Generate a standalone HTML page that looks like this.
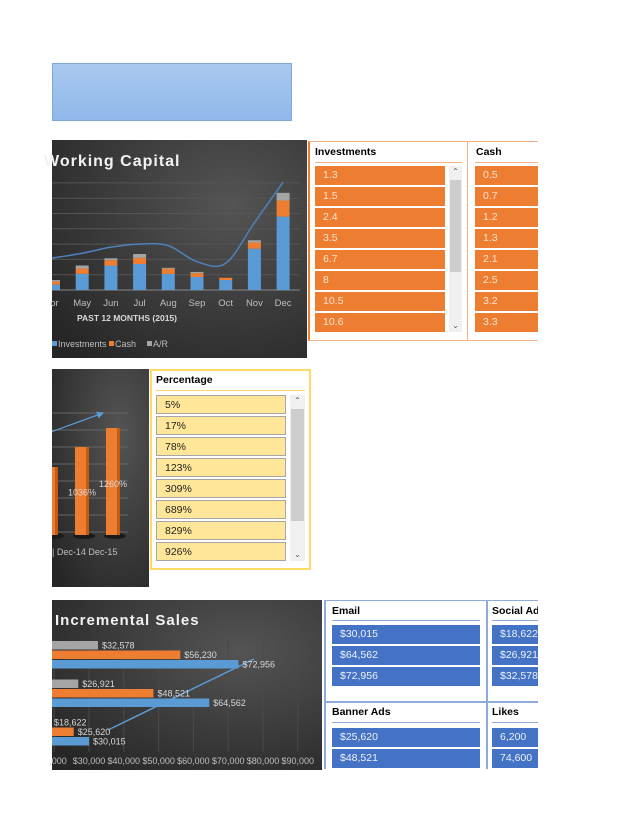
<!DOCTYPE html>
<html><head><meta charset="utf-8"><style>
*{margin:0;padding:0;box-sizing:border-box}
body{width:638px;height:826px;background:#fff;position:relative;overflow:hidden;font-family:"Liberation Sans",sans-serif}
.abs{position:absolute}
.hdr{position:absolute;font-size:10.5px;font-weight:bold;color:#000}
.cell{position:absolute;height:19px;font-size:10.5px;line-height:19px;padding-left:8px}
.o{background:#ed7d31;color:#fbe3d2}
.y{background:#ffe699;color:#222;border:1px solid #a6a6a6}
.b{background:#4472c4;color:#eef2fa}
.sb{position:absolute;background:#f0f0f0}
.sb .th{position:absolute;left:1px;right:1px;background:#cdcdcd}
.sb .ar{position:absolute;left:0;right:0;text-align:center;font-size:8px;color:#555}
</style></head><body>
<div class="abs" style="left:52px;top:63px;width:240px;height:58px;background:linear-gradient(#a9c8ee,#90b8ea);border:1px solid #7fa6d6"></div>

<svg class="abs" style="left:0;top:0" width="638" height="826">
<defs>
<radialGradient id="dk" cx="0.7" cy="0.3" r="0.9"><stop offset="0" stop-color="#545454"/><stop offset="1" stop-color="#262626"/></radialGradient>
<marker id="ah" markerWidth="6" markerHeight="6" refX="5" refY="3" orient="auto"><path d="M0,0L6,3L0,6z" fill="#5b9bd5"/></marker>
</defs>
<g id="c1"></g>
<g id="c2"></g>
<g id="c3"></g>
</svg>

<!-- Investments / Cash table -->
<div class="abs" style="left:308px;top:141px;width:230px;height:200px;border-top:1px solid #f4b183;border-bottom:1px solid #f4b183;border-left:2px solid #ed7d31"></div>
<div class="abs" style="left:467px;top:141px;width:1px;height:200px;background:#f4b183"></div>
<div class="hdr" style="left:315px;top:146px">Investments</div>
<div class="hdr" style="left:476px;top:146px">Cash</div>
<div class="abs" style="left:315px;top:162px;width:147px;height:1px;background:#f4b183"></div>
<div class="abs" style="left:475px;top:162px;width:63px;height:1px;background:#f4b183"></div>
<div id="invT"></div>
<div class="sb" style="left:449px;top:166px;width:13px;height:166px"><div class="ar" style="top:1px">&#8963;</div><div class="th" style="top:14px;height:92px"></div><div class="ar" style="bottom:2px">&#8964;</div></div>

<!-- Percentage table -->
<div class="abs" style="left:150px;top:369px;width:161px;height:201px;border:2px solid #ffd966"></div>
<div class="hdr" style="left:156px;top:374px">Percentage</div>
<div class="abs" style="left:156px;top:390px;width:149px;height:1px;background:#ffd966"></div>
<div id="pctT"></div>
<div class="sb" style="left:290px;top:395px;width:15px;height:166px"><div class="ar" style="top:1px">&#8963;</div><div class="th" style="top:14px;height:112px"></div><div class="ar" style="bottom:2px">&#8964;</div></div>

<!-- Email tables -->
<div class="abs" style="left:324px;top:600px;width:214px;height:169px;border-top:1px solid #8faadc;border-left:2px solid #8faadc"></div>
<div class="abs" style="left:486px;top:600px;width:2px;height:169px;background:#8faadc"></div>
<div class="abs" style="left:324px;top:701px;width:214px;height:2px;background:#8faadc"></div>
<div class="hdr" style="left:332px;top:605px">Email</div>
<div class="hdr" style="left:492px;top:605px;width:46px;overflow:hidden;white-space:nowrap">Social Ads</div>
<div class="hdr" style="left:332px;top:706px">Banner Ads</div>
<div class="hdr" style="left:492px;top:706px">Likes</div>
<div class="abs" style="left:332px;top:620px;width:148px;height:1px;background:#8faadc"></div>
<div class="abs" style="left:492px;top:620px;width:46px;height:1px;background:#8faadc"></div>
<div class="abs" style="left:332px;top:722px;width:148px;height:1px;background:#8faadc"></div>
<div class="abs" style="left:492px;top:722px;width:46px;height:1px;background:#8faadc"></div>
<div id="salesT"></div>

<script>
// ---------- data ----------
const months = ["Apr","May","Jun","Jul","Aug","Sep","Oct","Nov","Dec"];
const monthLabels = ["or","May","Jun","Jul","Aug","Sep","Oct","Nov","Dec"];
const invSeries = [0.35,1.05,1.6,1.7,1.05,0.85,0.65,2.7,4.8];
const cashSeries = [0.2,0.35,0.35,0.4,0.35,0.25,0.15,0.4,1.05];
const arSeries = [0.1,0.2,0.12,0.25,0.05,0.08,0,0.15,0.5];
const trendSeries = [2.1,2.4,2.8,3.0,2.9,1.85,1.75,4.4,7.05];

const pctCats = ["Dec-13","Dec-14","Dec-15"];
const pctValues = [800,1036,1260];
const pctLabels = ["","1036%","1260%"];

const salesGroups = ["G1","G2","G3"];
const emailVals = [30015,64562,72956];
const bannerVals = [25620,48521,56230];
const socialVals = [18622,26921,32578];
const xTicks = [20000,30000,40000,50000,60000,70000,80000,90000];
const xTickLabels = [",000","$30,000","$40,000","$50,000","$60,000","$70,000","$80,000","$90,000"];

const invTable = ["1.3","1.5","2.4","3.5","6.7","8","10.5","10.6"];
const cashTable = ["0.5","0.7","1.2","1.3","2.1","2.5","3.2","3.3"];
const pctTable = ["5%","17%","78%","123%","309%","689%","829%","926%"];
const emailTable = ["$30,015","$64,562","$72,956"];
const socialTable = ["$18,622","$26,921","$32,578"];
const bannerTable = ["$25,620","$48,521"];
const likesTable = ["6,200","74,600"];

const NS="http://www.w3.org/2000/svg";
function mk(p,tag,a,txt){const e=document.createElementNS(NS,tag);for(const k in a)e.setAttribute(k,a[k]);if(txt!==undefined)e.textContent=txt;p.appendChild(e);return e;}
function fmt(v){return "$"+v.toLocaleString("en-US");}

// ---------- chart 1 ----------
(function(){
const g=document.getElementById('c1');
mk(g,'rect',{x:52,y:140,width:255,height:218,fill:'url(#dk)'});
const base=290, unit=15.3;
const y=v=>base-v*unit, x=i=>53.5+i*28.7;
for(let k=0;k<8;k++){const l=mk(g,'line',{x1:52,x2:300,y1:y(k),y2:y(k),stroke:k?'#555':'#888','stroke-width':1});
}
const clip=mk(g,'clipPath',{id:'cp1'});mk(clip,'rect',{x:52,y:140,width:255,height:218});
const pg=mk(g,'g',{'clip-path':'url(#cp1)'});
months.forEach((m,i)=>{
 const a=invSeries[i],b=cashSeries[i],c=arSeries[i];
 const r1=mk(pg,'rect',{x:x(i)-6.5,y:y(a),width:13,height:a*unit,fill:'#5b9bd5'});
 
 const r2=mk(pg,'rect',{x:x(i)-6.5,y:y(a+b),width:13,height:b*unit,fill:'#ed7d31'});
 
 const r3=mk(pg,'rect',{x:x(i)-6.5,y:y(a+b+c),width:13,height:c*unit,fill:'#a5a5a5'});
 
 const t=mk(g,'text',{x:x(i)+(i?0:1),y:306,fill:'#bfbfbf','font-size':9.5,'text-anchor':'middle'},monthLabels[i]);
 
});
// smooth trend
const pts=trendSeries.map((v,i)=>[x(i),y(v)]);
pts.unshift([x(-0.1),y(trendSeries[0])]);
let d='M'+pts[0][0]+','+pts[0][1];
for(let i=0;i<pts.length-1;i++){const p0=pts[i-1]||pts[i],p1=pts[i],p2=pts[i+1],p3=pts[i+2]||p2;
 d+=` C${p1[0]+(p2[0]-p0[0])/6},${p1[1]+(p2[1]-p0[1])/6} ${p2[0]-(p3[0]-p1[0])/6},${p2[1]-(p3[1]-p1[1])/6} ${p2[0]},${p2[1]}`;}
const tl=mk(pg,'path',{d:d,fill:'none',stroke:'#4f81bd','stroke-width':1.5});

const tt=mk(g,'text',{x:44,y:166,fill:'#f2f2f2','font-size':16,'font-weight':'bold','letter-spacing':1},'Working Capital');

mk(g,'rect',{x:52,y:140,width:255,height:218,fill:'none',stroke:'none'});
const st=mk(g,'text',{x:127,y:321,fill:'#d9d9d9','font-size':8.5,'font-weight':'bold','text-anchor':'middle'},'PAST 12 MONTHS (2015)');

[['Investments','#5b9bd5',52],['Cash','#ed7d31',109],['A/R','#a5a5a5',147]].forEach(l=>{
 const lg=mk(g,'g',{});
 mk(lg,'rect',{x:l[2],y:341,width:5,height:5,fill:l[1]});
 mk(lg,'text',{x:l[2]+6,y:347,fill:'#bfbfbf','font-size':9},l[0]);});
})();

// ---------- chart 2 ----------
(function(){
const g=document.getElementById('c2');
mk(g,'rect',{x:52,y:369,width:97,height:218,fill:'url(#dk)'});
for(let k=0;k<8;k++){const l=mk(g,'line',{x1:52,x2:128,y1:413+k*17,y2:413+k*17,stroke:'#666'});
}
const base=535, sc=107/1260, x=i=>44+i*31;
const clip=mk(g,'clipPath',{id:'cp2'});mk(clip,'rect',{x:52,y:369,width:97,height:218});
const pg=mk(g,'g',{'clip-path':'url(#cp2)'});
pctCats.forEach((c,i)=>{
 const h=pctValues[i]*sc;
 mk(pg,'ellipse',{cx:x(i)+9,cy:base+1,rx:11,ry:3,fill:'#1a1a1a'});
 const r=mk(pg,'rect',{x:x(i),y:base-h,width:14,height:h,fill:'#ed7d31'});
 
 mk(pg,'rect',{x:x(i)+11,y:base-h,width:3,height:h,fill:'#c55a11'});
 if(pctLabels[i]){const t=mk(g,'text',{x:x(i)+7,y:base-pctValues[i]*sc*0.45,fill:'#d9d9d9','font-size':9,'text-anchor':'middle'},pctLabels[i]);
 }
});
const ln=mk(pg,'line',{x1:40,y1:436,x2:103,y2:413,stroke:'#5b9bd5','stroke-width':1.2,'marker-end':'url(#ah)'});

const t=mk(g,'text',{x:52,y:555,fill:'#bfbfbf','font-size':9},'| Dec-14 Dec-15');

})();

// ---------- chart 3 ----------
(function(){
const g=document.getElementById('c3');
mk(g,'rect',{x:52,y:600,width:270,height:170,fill:'url(#dk)'});
const xs=v=>-15.4+v*0.00348;
xTicks.forEach((v,i)=>{
 const l=mk(g,'line',{x1:xs(v),x2:xs(v),y1:640,y2:752,stroke:'#4a4a4a'});
 
 const t=mk(g,'text',{x:i?xs(v):58,y:764,fill:'#bfbfbf','font-size':9,'text-anchor':'middle'},xTickLabels[i]);
 
});
const clip=mk(g,'clipPath',{id:'cp3'});mk(clip,'rect',{x:52,y:600,width:270,height:170});
const pg=mk(g,'g',{'clip-path':'url(#cp3)'});
const gy=i=>737-i*38.5;
const series=[[socialVals,'#a5a5a5',-19,'social'],[bannerVals,'#ed7d31',-9.5,'banner'],[emailVals,'#5b9bd5',0,'email']];
salesGroups.forEach((gn,i)=>{
 series.forEach(s=>{
  const v=s[0][i], yy=gy(i)+s[2];
  const r=mk(pg,'rect',{x:0,y:yy,width:Math.max(0,xs(v)),height:8.5,fill:s[1]});
  
  const lx=Math.max(xs(v)+4,54);
  const t=mk(g,'text',{x:lx,y:yy+7.5,fill:'#d9d9d9','font-size':9},fmt(v));
  
 });
});
const ln=mk(pg,'line',{x1:108,y1:730,x2:254,y2:659,stroke:'#5b9bd5','stroke-width':1.5});

const tt=mk(g,'text',{x:55,y:625,fill:'#f2f2f2','font-size':15,'font-weight':'bold','letter-spacing':1},'Incremental Sales');

})();

// ---------- tables ----------
function rows(host,vals,left,top,w,cls,name,pitch){
 vals.forEach((v,i)=>{const d=document.createElement('div');d.className='cell '+cls;
  d.style.left=left+'px';d.style.top=(top+i*pitch)+'px';d.style.width=w+'px';d.textContent=v;
  
  
  host.appendChild(d);});
}
rows(document.getElementById('invT'),invTable,315,166,130,'o','investments',21);
rows(document.getElementById('invT'),cashTable,475,166,63,'o','cash',21);
rows(document.getElementById('pctT'),pctTable,156,395,130,'y','percentage',21);
const sT=document.getElementById('salesT');
rows(sT,emailTable,332,625,148,'b','email',21);
rows(sT,socialTable,492,625,46,'b','social-ads',21);
rows(sT,bannerTable,332,728,148,'b','banner-ads',21);
rows(sT,likesTable,492,728,46,'b','likes',21);
</script>
</body></html>
